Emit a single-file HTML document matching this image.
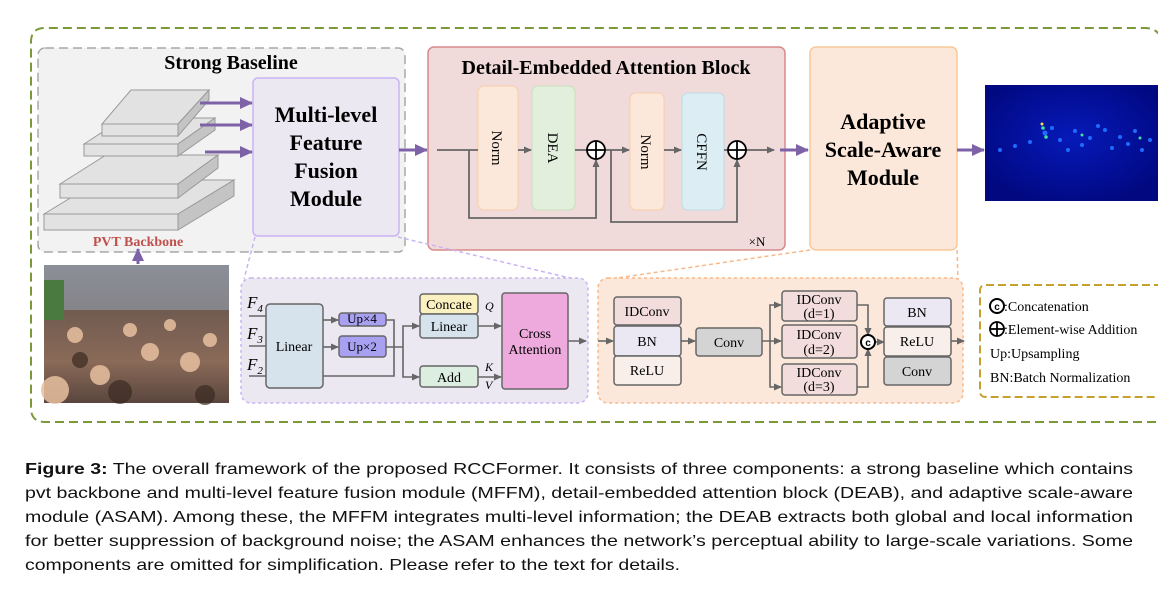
<!DOCTYPE html>
<html><head><meta charset="utf-8"><style>
html,body{margin:0;padding:0;background:#fff;width:1158px;height:592px;overflow:hidden}
svg{display:block}
.t{font-family:"Liberation Serif",serif}
.s{font-family:"Liberation Sans",sans-serif}
</style></head><body>
<svg width="1158" height="592" viewBox="0 0 1158 592" xmlns="http://www.w3.org/2000/svg">
<defs>
<marker id="ag" markerWidth="8" markerHeight="8" refX="7" refY="4" orient="auto" markerUnits="userSpaceOnUse"><path d="M0,0.5 L8,4 L0,7.5 z" fill="#666"/></marker>
<marker id="ap" markerWidth="14" markerHeight="14" refX="12" refY="7" orient="auto" markerUnits="userSpaceOnUse"><path d="M0,1 L13,7 L0,13 z" fill="#7e62a8"/></marker>
<radialGradient id="hm" cx="0.5" cy="0.45" r="0.6"><stop offset="0" stop-color="#061ab8"/><stop offset="0.6" stop-color="#030f98"/><stop offset="1" stop-color="#010880"/></radialGradient>
<linearGradient id="cr" x1="0" y1="0" x2="0" y2="1"><stop offset="0" stop-color="#8a8e96"/><stop offset="0.3" stop-color="#6e5a50"/><stop offset="0.7" stop-color="#8a6a58"/><stop offset="1" stop-color="#5a463e"/></linearGradient>
</defs>
<text x="565" y="0" class="s" font-size="15" text-anchor="middle" fill="#222">Short Title of the Article</text>
<path d="M1170,422 L45,422 Q31,422 31,408 L31,42 Q31,28 45,28 L1145,28 Q1158,28 1162,40" fill="none" stroke="#7a9a3a" stroke-width="2" stroke-dasharray="9,5"/>
<rect x="38" y="48" width="367" height="204" rx="7" fill="#f2f2f2" stroke="#a8a8a8" stroke-width="1.5" stroke-dasharray="9,5"/>
<text x="231" y="69" class="t" font-size="20" font-weight="bold" text-anchor="middle">Strong Baseline</text>
<g fill="#e2e2e2" stroke="#999" stroke-width="1">
<path d="M44,214 L100,180 L234,180 L178,214 z"/><rect x="44" y="214" width="134" height="16"/><path d="M178,214 L234,180 L234,196 L178,230 z" fill="#c4c4c4"/>
<path d="M60,184 L106,155 L218,155 L178,184 z"/><rect x="60" y="184" width="118" height="14"/><path d="M178,184 L218,155 L218,168 L178,198 z" fill="#c4c4c4"/>
<path d="M84,144 L124,118 L215,118 L178,144 z"/><rect x="84" y="144" width="94" height="12"/><path d="M178,144 L215,118 L215,130 L178,156 z" fill="#c4c4c4"/>
<path d="M102,124 L131,90 L209,90 L178,124 z"/><rect x="102" y="124" width="76" height="12"/><path d="M178,124 L209,90 L209,100 L178,136 z" fill="#c4c4c4"/>
</g>
<g stroke="#7e62a8" stroke-width="3" marker-end="url(#ap)"><line x1="200" y1="103" x2="252" y2="103"/><line x1="200" y1="125" x2="252" y2="125"/><line x1="205" y1="152" x2="252" y2="152"/></g>
<text x="138" y="246" class="t" font-size="14" font-weight="bold" fill="#c0504d" text-anchor="middle">PVT Backbone</text>
<rect x="253" y="78" width="146" height="158" rx="5" fill="#ece8f2" stroke="#c9b3f5" stroke-width="1.5"/>
<g class="t" font-size="22" font-weight="bold" text-anchor="middle"><text x="326" y="122">Multi-level</text><text x="326" y="150">Feature</text><text x="326" y="178">Fusion</text><text x="326" y="206">Module</text></g>
<line x1="399" y1="150" x2="427" y2="150" stroke="#7e62a8" stroke-width="3" marker-end="url(#ap)"/>
<rect x="428" y="47" width="357" height="203" rx="6" fill="#f0dada" stroke="#d98a8a" stroke-width="1.5"/>
<text x="606" y="74" class="t" font-size="20" font-weight="bold" text-anchor="middle">Detail-Embedded Attention Block</text>
<rect x="478" y="86" width="40" height="124" rx="6" fill="#fce8da" stroke="#f8cfa8"/>
<rect x="532" y="86" width="43" height="124" rx="6" fill="#e2efdc" stroke="#c8e0bc"/>
<rect x="630" y="93" width="34" height="117" rx="6" fill="#fce8da" stroke="#f8cfa8"/>
<rect x="682" y="93" width="42" height="117" rx="6" fill="#dceef4" stroke="#bcdce8"/>
<g class="t" font-size="15" text-anchor="middle">
<text transform="translate(492,148) rotate(90)">Norm</text><text transform="translate(548,148) rotate(90)">DEA</text>
<text transform="translate(641,152) rotate(90)">Norm</text><text transform="translate(697,152) rotate(90)">CFFN</text></g>
<g stroke="#666" stroke-width="1.8" fill="none">
<line x1="437" y1="150" x2="478" y2="150"/><line x1="518" y1="150" x2="531" y2="150" marker-end="url(#ag)"/>
<line x1="575" y1="150" x2="587" y2="150"/><line x1="605" y1="150" x2="629" y2="150" marker-end="url(#ag)"/>
<line x1="664" y1="150" x2="681" y2="150" marker-end="url(#ag)"/><line x1="724" y1="150" x2="728" y2="150"/>
<line x1="746" y1="150" x2="774" y2="150" marker-end="url(#ag)"/>
<path d="M469,150 L469,218 L596,218 L596,160" marker-end="url(#ag)"/>
<path d="M611,150 L611,222 L737,222 L737,160" marker-end="url(#ag)"/>
</g>
<g stroke="#000" stroke-width="1.8" fill="#fff"><circle cx="596" cy="150" r="9"/><line x1="587" y1="150" x2="605" y2="150"/><line x1="596" y1="141" x2="596" y2="159"/>
<circle cx="737" cy="150" r="9"/><line x1="728" y1="150" x2="746" y2="150"/><line x1="737" y1="141" x2="737" y2="159"/></g>
<text x="757" y="246" class="t" font-size="13" text-anchor="middle">×N</text>
<line x1="780" y1="150" x2="808" y2="150" stroke="#7e62a8" stroke-width="3" marker-end="url(#ap)"/>
<rect x="810" y="47" width="147" height="203" rx="6" fill="#fce8da" stroke="#f8c89a" stroke-width="1.5"/>
<g class="t" font-size="22" font-weight="bold" text-anchor="middle"><text x="883" y="129">Adaptive</text><text x="883" y="157">Scale-Aware</text><text x="883" y="185">Module</text></g>
<line x1="957" y1="150" x2="984" y2="150" stroke="#7e62a8" stroke-width="3" marker-end="url(#ap)"/>
<rect x="985" y="85" width="175" height="116" fill="url(#hm)"/>
<g fill="#1e6cff"><circle cx="1000" cy="150" r="2"/><circle cx="1015" cy="146" r="2"/><circle cx="1030" cy="142" r="2"/><circle cx="1045" cy="133" r="2.5"/><circle cx="1060" cy="140" r="2"/><circle cx="1068" cy="150" r="2"/><circle cx="1075" cy="131" r="2"/><circle cx="1090" cy="138" r="2"/><circle cx="1105" cy="130" r="2"/><circle cx="1112" cy="148" r="2"/><circle cx="1120" cy="137" r="2"/><circle cx="1135" cy="131" r="2"/><circle cx="1142" cy="150" r="2"/><circle cx="1150" cy="140" r="2"/><circle cx="1052" cy="128" r="2"/><circle cx="1098" cy="126" r="2"/><circle cx="1128" cy="144" r="2"/><circle cx="1082" cy="145" r="2"/></g>
<g fill="#40e0a0"><circle cx="1043" cy="128" r="1.8"/><circle cx="1046" cy="137" r="1.8"/><circle cx="1082" cy="135" r="1.5"/><circle cx="1140" cy="138" r="1.5"/></g>
<circle cx="1042" cy="124" r="1.5" fill="#f0e040"/>
<rect x="44" y="265" width="185" height="138" fill="url(#cr)"/>
<rect x="44" y="265" width="185" height="45" fill="#8c9098" opacity="0.8"/>
<rect x="44" y="280" width="20" height="40" fill="#4a7a40"/>
<g fill="#e8c0a0" opacity="0.85"><circle cx="55" cy="390" r="14"/><circle cx="100" cy="375" r="10"/><circle cx="150" cy="352" r="9"/><circle cx="190" cy="362" r="10"/><circle cx="75" cy="335" r="8"/><circle cx="130" cy="330" r="7"/><circle cx="210" cy="340" r="7"/><circle cx="170" cy="325" r="6"/></g>
<g fill="#3a2a22" opacity="0.7"><circle cx="120" cy="392" r="12"/><circle cx="80" cy="360" r="8"/><circle cx="205" cy="395" r="10"/></g>
<line x1="138" y1="264" x2="138" y2="249" stroke="#7e62a8" stroke-width="3" marker-end="url(#ap)"/>
<g stroke="#c9b3f5" stroke-width="1.5" stroke-dasharray="4,3" fill="none"><line x1="255" y1="237" x2="244" y2="279"/><line x1="398" y1="237" x2="578" y2="280"/></g>
<g stroke="#f8b888" stroke-width="1.5" stroke-dasharray="4,3" fill="none"><line x1="810" y1="250" x2="610" y2="279"/><line x1="957" y1="250" x2="958" y2="279"/></g>
<rect x="241" y="278" width="347" height="125" rx="10" fill="#ece8f2" stroke="#c9b3f5" stroke-width="1.5" stroke-dasharray="3,3"/>
<g class="t" font-style="italic" font-size="17"><text x="247" y="308">F<tspan font-size="11" dy="4">4</tspan></text><text x="247" y="339">F<tspan font-size="11" dy="4">3</tspan></text><text x="247" y="370">F<tspan font-size="11" dy="4">2</tspan></text></g>
<g stroke="#666" stroke-width="1.6" fill="none">
<line x1="249" y1="316" x2="266" y2="316"/><line x1="249" y1="346" x2="266" y2="346"/><line x1="249" y1="376" x2="266" y2="376"/>
<line x1="323" y1="320" x2="338" y2="320" marker-end="url(#ag)"/><line x1="323" y1="347" x2="338" y2="347" marker-end="url(#ag)"/>
<path d="M386,320 L394,320 L394,376 L323,376"/><line x1="386" y1="347" x2="403" y2="347"/>
<path d="M403,347 L403,326 L419,326" marker-end="url(#ag)"/><path d="M403,347 L403,377 L419,377" marker-end="url(#ag)"/>
<line x1="478" y1="326" x2="501" y2="326" marker-end="url(#ag)"/><line x1="478" y1="377" x2="501" y2="377" marker-end="url(#ag)"/>
<line x1="568" y1="341" x2="586" y2="341" marker-end="url(#ag)"/>
</g>
<g stroke="#666" stroke-width="1.5">
<rect x="266" y="304" width="57" height="84" rx="4" fill="#d6e2ec"/>
<rect x="339" y="313" width="47" height="13" rx="3" fill="#a8a0f0"/>
<rect x="339" y="336" width="47" height="21" rx="3" fill="#a8a0f0"/>
<rect x="420" y="294" width="58" height="20" rx="3" fill="#fbf0c0"/>
<rect x="420" y="314" width="58" height="24" rx="3" fill="#d6e2ec"/>
<rect x="420" y="366" width="58" height="21" rx="3" fill="#dceee0"/>
<rect x="502" y="293" width="66" height="96" rx="3" fill="#eeaadd"/>
</g>
<g class="t" font-size="14" text-anchor="middle">
<text x="294" y="351">Linear</text><text x="362" y="323" font-size="13">Up×4</text><text x="362" y="351" font-size="13">Up×2</text>
<text x="449" y="309">Concate</text><text x="449" y="331">Linear</text><text x="449" y="382">Add</text>
<text x="535" y="338">Cross</text><text x="535" y="354">Attention</text></g>
<g class="t" font-style="italic" font-size="12"><text x="485" y="310">Q</text><text x="485" y="371">K</text><text x="485" y="389">V</text></g>
<rect x="598" y="278" width="365" height="125" rx="10" fill="#fce8da" stroke="#f8b888" stroke-width="1.5" stroke-dasharray="3,3"/>
<g stroke="#666" stroke-width="1.6" fill="none">
<line x1="598" y1="341" x2="613" y2="341" marker-end="url(#ag)"/>
<line x1="681" y1="341" x2="695" y2="341" marker-end="url(#ag)"/>
<line x1="762" y1="341" x2="781" y2="341" marker-end="url(#ag)"/>
<path d="M770,341 L770,305 L781,305" marker-end="url(#ag)"/><path d="M770,341 L770,387 L781,387" marker-end="url(#ag)"/>
<path d="M857,305 L868,305 L868,335" marker-end="url(#ag)"/><path d="M857,387 L868,387 L868,349" marker-end="url(#ag)"/>
<line x1="875" y1="342" x2="884" y2="342" marker-end="url(#ag)"/>
<line x1="951" y1="341" x2="964" y2="341" marker-end="url(#ag)"/>
</g>
<g stroke="#666" stroke-width="1.5">
<rect x="614" y="297" width="67" height="28" rx="3" fill="#f2dcdc"/>
<rect x="614" y="326" width="67" height="30" rx="3" fill="#ebe8f3"/>
<rect x="614" y="356" width="67" height="29" rx="3" fill="#f8efea"/>
<rect x="696" y="328" width="66" height="28" rx="3" fill="#d4d4d4"/>
<rect x="782" y="291" width="75" height="30" rx="3" fill="#f2dcdc"/>
<rect x="782" y="325" width="75" height="33" rx="3" fill="#f2dcdc"/>
<rect x="782" y="364" width="75" height="31" rx="3" fill="#f2dcdc"/>
<rect x="884" y="298" width="67" height="28" rx="3" fill="#ebe8f3"/>
<rect x="884" y="327" width="67" height="29" rx="3" fill="#f8efea"/>
<rect x="884" y="357" width="67" height="28" rx="3" fill="#d4d4d4"/>
</g>
<circle cx="868" cy="342" r="7" fill="#fff" stroke="#000" stroke-width="2"/><text x="868" y="346" class="s" font-size="10" font-weight="bold" text-anchor="middle">c</text>
<g class="t" font-size="14" text-anchor="middle">
<text x="647" y="316">IDConv</text><text x="647" y="346">BN</text><text x="647" y="375">ReLU</text><text x="729" y="347">Conv</text>
<text x="819" y="304">IDConv</text><text x="819" y="318">(d=1)</text>
<text x="819" y="339">IDConv</text><text x="819" y="354">(d=2)</text>
<text x="819" y="377">IDConv</text><text x="819" y="391">(d=3)</text>
<text x="917" y="317">BN</text><text x="917" y="346">ReLU</text><text x="917" y="376">Conv</text></g>
<path d="M1162,285 L986,285 Q980,285 980,291 L980,391 Q980,397 986,397 L1162,397" fill="none" stroke="#c8a030" stroke-width="2" stroke-dasharray="8,4"/>
<circle cx="997" cy="306" r="7" fill="#fff" stroke="#000" stroke-width="2"/><text x="997" y="310" class="s" font-size="10" font-weight="bold" text-anchor="middle">c</text>
<g stroke="#000" stroke-width="1.8" fill="none"><circle cx="997" cy="329" r="7"/><line x1="990" y1="329" x2="1004" y2="329"/><line x1="997" y1="322" x2="997" y2="336"/></g>
<g class="t" font-size="14"><text x="1004" y="311">:Concatenation</text><text x="1004" y="334">:Element-wise Addition</text><text x="990" y="358">Up:Upsampling</text><text x="990" y="382">BN:Batch Normalization</text></g>
<g class="s" font-size="16" fill="#111">
<text x="25" y="474" textLength="1108" lengthAdjust="spacingAndGlyphs"><tspan font-weight="bold">Figure 3:</tspan> The overall framework of the proposed RCCFormer. It consists of three components: a strong baseline which contains</text>
<text x="25" y="498" textLength="1108" lengthAdjust="spacingAndGlyphs">pvt backbone and multi-level feature fusion module (MFFM), detail-embedded attention block (DEAB), and adaptive scale-aware</text>
<text x="25" y="522" textLength="1108" lengthAdjust="spacingAndGlyphs">module (ASAM). Among these, the MFFM integrates multi-level information; the DEAB extracts both global and local information</text>
<text x="25" y="546" textLength="1108" lengthAdjust="spacingAndGlyphs">for better suppression of background noise; the ASAM enhances the network’s perceptual ability to large-scale variations. Some</text>
<text x="25" y="570" textLength="655" lengthAdjust="spacingAndGlyphs">components are omitted for simplification. Please refer to the text for details.</text>
</g>
</svg>
</body></html>
